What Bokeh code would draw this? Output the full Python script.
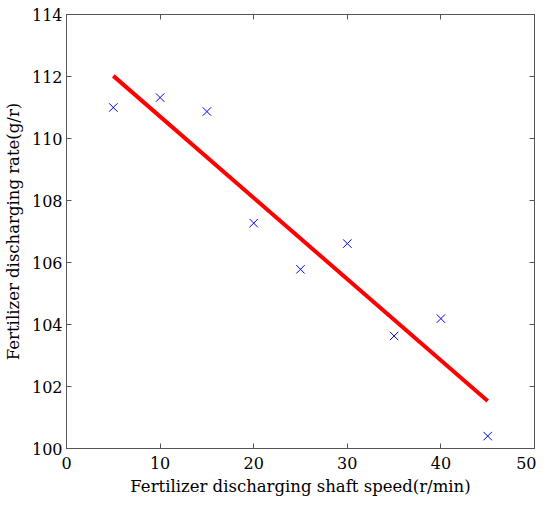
from bokeh.plotting import figure
from bokeh.models import LinearAxis, Range1d, FixedTicker
from bokeh.embed import file_html
from bokeh.resources import INLINE

# Data
speed = [5, 10, 15, 20, 25, 30, 35, 40, 45]
rate = [111.00, 111.32, 110.87, 107.27, 105.78, 106.61, 103.63, 104.19, 100.40]
fit_x = [5, 45]
fit_y = [112.02, 101.53]
x_ticks = [0, 10, 20, 30, 40, 50]
y_ticks = [100, 102, 104, 106, 108, 110, 112, 114]

FONT = "DejaVu Serif"

p = figure(frame_width=468, frame_height=434, output_backend="svg", toolbar_location=None,
           x_range=Range1d(0, 50), y_range=Range1d(100, 114),
           min_border_left=64, min_border_right=2, min_border_top=14, min_border_bottom=50)
p.background_fill_color = "white"
p.border_fill_color = "white"
p.outline_line_color = "#555555"
p.grid.visible = False

p.line(fit_x, fit_y, line_color="#ff0000", line_width=4)
p.scatter(speed, rate, marker="x", size=12, line_color="#0000ff", line_width=1)

def style(ax, ticks, labels=True):
    ax.ticker = FixedTicker(ticks=ticks)
    ax.major_tick_in = 5
    ax.major_tick_out = 0
    ax.minor_tick_line_color = None
    ax.axis_line_color = "#555555"
    ax.major_tick_line_color = "#555555"
    ax.major_label_text_font = FONT
    ax.major_label_text_font_size = "16px"
    ax.major_label_text_color = "black"
    ax.axis_label_text_font = FONT
    ax.axis_label_text_font_size = "16.5px"
    ax.axis_label_text_font_style = "normal"
    ax.axis_label_text_color = "black"
    if not labels:
        ax.major_label_text_font_size = "0px"
        ax.major_label_standoff = 0

style(p.xaxis[0], x_ticks)
style(p.yaxis[0], y_ticks)
p.xaxis[0].axis_label = "Fertilizer discharging shaft speed(r/min)"
p.yaxis[0].axis_label = "Fertilizer discharging rate(g/r)"
p.xaxis[0].major_label_standoff = 8
p.yaxis[0].major_label_standoff = 4
p.xaxis[0].axis_label_standoff = 5
p.yaxis[0].axis_label_standoff = 6

top = LinearAxis()
right = LinearAxis()
style(top, x_ticks, labels=False)
style(right, y_ticks, labels=False)
p.add_layout(top, "above")
p.add_layout(right, "right")

open("out.html", "w").write(file_html(p, INLINE))
